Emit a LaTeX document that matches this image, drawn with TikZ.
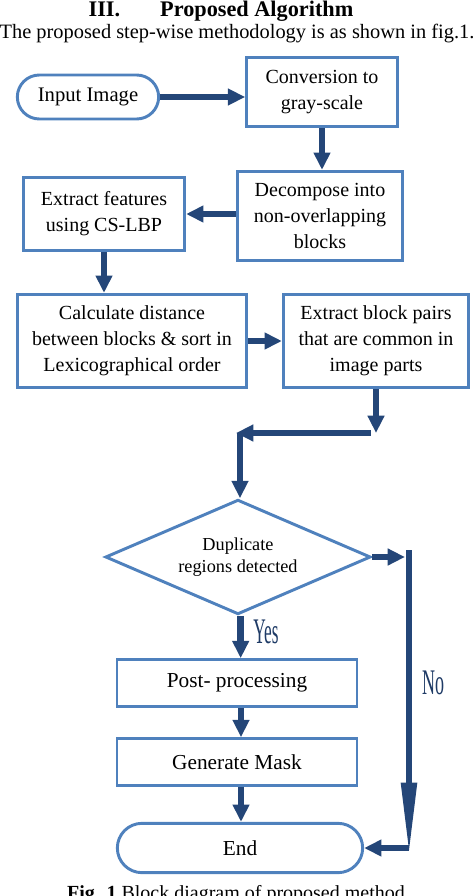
\documentclass[tikz,border=0pt]{standalone}
\usepackage{fontspec}
\setmainfont{Liberation Serif}
\usepackage{graphicx}
\usetikzlibrary{shapes.geometric, shapes.misc, arrows.meta}
\usetikzlibrary{positioning}
\definecolor{boxblue}{RGB}{79,129,189}
\definecolor{flowblue}{RGB}{36,70,120}
\tikzstyle{termnode}=[draw=boxblue, rounded rectangle, line width=2.2pt,
					fill=white, align=center, inner sep=0pt]
\tikzstyle{flowline}=[draw=flowblue, line width=4.8pt,
					-{Triangle[length=13pt,width=12pt]}]

\begin{document}
\begin{tikzpicture}[x=0.75pt, y=-0.75pt,
squarednode/.style={rectangle, draw=boxblue, fill=white, line width=2.2pt, align=center, inner sep=0pt, font=\fontsize{15}{19.5}\selectfont},
decisionnode/.style={diamond, aspect=2.3, draw=boxblue, fill=white, line width=2.2pt, align=center, inner sep=0pt, font=\fontsize{13.7}{17}\selectfont},
answer/.style={font=\fontsize{27}{27}\selectfont, text=flowblue!85!black},
]
\useasboundingbox (0,0) rectangle (474,896);
\clip (0,0) rectangle (474,896);

%Texts
\node[anchor=base, font=\fontsize{16.7}{18}\selectfont\bfseries] (title_node) at (221,16) {III.\hspace{30pt}Proposed Algorithm};
\node[anchor=base, font=\fontsize{15.3}{17}\selectfont] (intro_node) at (237,38) {The proposed step-wise methodology is as shown in fig.1.};

%Nodes
\node[termnode, minimum width=106pt, minimum height=33pt, font=\fontsize{15.5}{19}\selectfont] (input_node) at (88,97) {Input Image};
\node[squarednode, minimum width=113pt, minimum height=52pt] (gray_node) at (322,92) {Conversion to\\gray-scale};
\node[squarednode, minimum width=124pt, minimum height=67pt] (decompose_node) at (320,216) {Decompose into\\non-overlapping\\blocks};
\node[squarednode, minimum width=121pt, minimum height=55pt] (features_node) at (104,214) {Extract features\\using CS-LBP};
\node[squarednode, minimum width=172pt, minimum height=70pt] (distance_node) at (132,341) {Calculate distance\\between blocks \& sort in\\Lexicographical order};
\node[squarednode, minimum width=139pt, minimum height=70pt] (pairs_node) at (376,341) {Extract block pairs\\that are common in\\image parts};
\node[decisionnode, minimum width=199pt, minimum height=86pt] (duplicate_node) at (238,557) {Duplicate\\regions detected};
\node[squarednode, minimum width=180pt, minimum height=35pt, font=\fontsize{16}{19}\selectfont] (post_node) at (237,683) {Post- processing};
\node[squarednode, minimum width=180pt, minimum height=35pt, font=\fontsize{16}{19}\selectfont] (mask_node) at (237,762) {Generate Mask};
\node[termnode, minimum width=184pt, minimum height=37pt, font=\fontsize{16}{19}\selectfont] (end_node) at (240,848) {End};

\node[answer] (yes_node) at (266,632) {\scalebox{0.48}[1]{Yes}};
\node[answer] (no_node) at (433,683) {\scalebox{0.5}[1]{No}};

\node[anchor=base, font=\fontsize{15}{17}\selectfont] (caption_node) at (236,899) {\textbf{Fig. 1} Block diagram of proposed method};

%Bends
\coordinate (bendR) at (376,433);
\coordinate (bendL) at (236,433);
\coordinate (noTop) at (409,550);
\coordinate (noBot) at (409,848);

%Lines
\draw[flowline] (input_node.east) -- (input_node.east -| gray_node.west);
\draw[flowline] (gray_node.south) -- (gray_node.south |- decompose_node.north);
\draw[flowline] (decompose_node.west |- features_node.east) -- (features_node.east);
\draw[flowline] (features_node.south) -- (features_node.south |- distance_node.north);
\draw[flowline] (distance_node.east) -- (pairs_node.west);
\draw[flowline] (pairs_node.south) -- (bendR);
\draw[flowline] ([xshift=-4]bendR) -- (bendL);
\draw[flowline] ([xshift=3]bendL) -- ([xshift=3]bendL |- duplicate_node.north);
\draw[flowline] (duplicate_node.east) -- ([xshift=-3]noTop |- duplicate_node.east);
\draw[flowline, -{Triangle[length=55pt,width=11pt]}] (noTop) -- ([yshift=-6]noBot);
\draw[flowline] (noBot) -- (end_node.east);
\draw[flowline] ([xshift=2]duplicate_node.south) -- ([xshift=2]duplicate_node.south |- post_node.north);
\draw[flowline] ([xshift=3]post_node.south) -- ([xshift=3]mask_node.north);
\draw[flowline] ([xshift=3]mask_node.south) -- ([xshift=3]mask_node.south |- end_node.north);

\end{tikzpicture}
\end{document}
